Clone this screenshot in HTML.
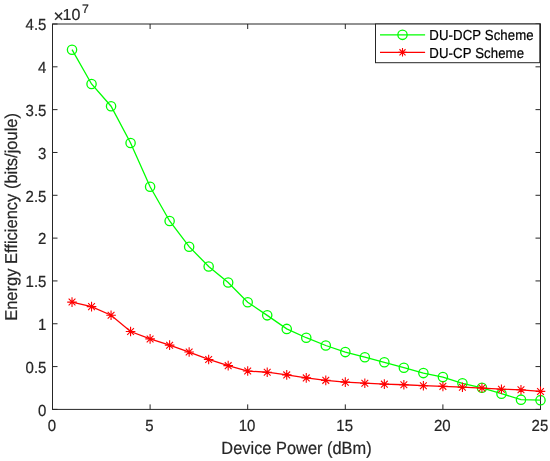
<!DOCTYPE html>
<html><head><meta charset="utf-8"><style>
html,body{margin:0;padding:0;background:#fff;}
svg{display:block;font-family:"Liberation Sans",Arial,sans-serif;text-rendering:geometricPrecision;}
text{fill:#262626;stroke:#262626;stroke-width:0.2px;}
.lg text{fill:#000;stroke:#000;}
</style></head><body>
<svg width="550" height="461" viewBox="0 0 550 461">
<rect width="550" height="461" fill="#fff"/>
<rect x="52.5" y="24.0" width="488.0" height="385.4" fill="none" stroke="#262626" stroke-width="1"/>
<line x1="52.50" y1="409.4" x2="52.50" y2="404.4" stroke="#262626" stroke-width="1"/>
<line x1="52.50" y1="24.0" x2="52.50" y2="29.0" stroke="#262626" stroke-width="1"/>
<line x1="150.10" y1="409.4" x2="150.10" y2="404.4" stroke="#262626" stroke-width="1"/>
<line x1="150.10" y1="24.0" x2="150.10" y2="29.0" stroke="#262626" stroke-width="1"/>
<line x1="247.70" y1="409.4" x2="247.70" y2="404.4" stroke="#262626" stroke-width="1"/>
<line x1="247.70" y1="24.0" x2="247.70" y2="29.0" stroke="#262626" stroke-width="1"/>
<line x1="345.30" y1="409.4" x2="345.30" y2="404.4" stroke="#262626" stroke-width="1"/>
<line x1="345.30" y1="24.0" x2="345.30" y2="29.0" stroke="#262626" stroke-width="1"/>
<line x1="442.90" y1="409.4" x2="442.90" y2="404.4" stroke="#262626" stroke-width="1"/>
<line x1="442.90" y1="24.0" x2="442.90" y2="29.0" stroke="#262626" stroke-width="1"/>
<line x1="540.50" y1="409.4" x2="540.50" y2="404.4" stroke="#262626" stroke-width="1"/>
<line x1="540.50" y1="24.0" x2="540.50" y2="29.0" stroke="#262626" stroke-width="1"/>
<line x1="52.5" y1="409.40" x2="57.5" y2="409.40" stroke="#262626" stroke-width="1"/>
<line x1="540.5" y1="409.40" x2="535.5" y2="409.40" stroke="#262626" stroke-width="1"/>
<line x1="52.5" y1="366.58" x2="57.5" y2="366.58" stroke="#262626" stroke-width="1"/>
<line x1="540.5" y1="366.58" x2="535.5" y2="366.58" stroke="#262626" stroke-width="1"/>
<line x1="52.5" y1="323.76" x2="57.5" y2="323.76" stroke="#262626" stroke-width="1"/>
<line x1="540.5" y1="323.76" x2="535.5" y2="323.76" stroke="#262626" stroke-width="1"/>
<line x1="52.5" y1="280.93" x2="57.5" y2="280.93" stroke="#262626" stroke-width="1"/>
<line x1="540.5" y1="280.93" x2="535.5" y2="280.93" stroke="#262626" stroke-width="1"/>
<line x1="52.5" y1="238.11" x2="57.5" y2="238.11" stroke="#262626" stroke-width="1"/>
<line x1="540.5" y1="238.11" x2="535.5" y2="238.11" stroke="#262626" stroke-width="1"/>
<line x1="52.5" y1="195.29" x2="57.5" y2="195.29" stroke="#262626" stroke-width="1"/>
<line x1="540.5" y1="195.29" x2="535.5" y2="195.29" stroke="#262626" stroke-width="1"/>
<line x1="52.5" y1="152.47" x2="57.5" y2="152.47" stroke="#262626" stroke-width="1"/>
<line x1="540.5" y1="152.47" x2="535.5" y2="152.47" stroke="#262626" stroke-width="1"/>
<line x1="52.5" y1="109.64" x2="57.5" y2="109.64" stroke="#262626" stroke-width="1"/>
<line x1="540.5" y1="109.64" x2="535.5" y2="109.64" stroke="#262626" stroke-width="1"/>
<line x1="52.5" y1="66.82" x2="57.5" y2="66.82" stroke="#262626" stroke-width="1"/>
<line x1="540.5" y1="66.82" x2="535.5" y2="66.82" stroke="#262626" stroke-width="1"/>
<line x1="52.5" y1="24.00" x2="57.5" y2="24.00" stroke="#262626" stroke-width="1"/>
<line x1="540.5" y1="24.00" x2="535.5" y2="24.00" stroke="#262626" stroke-width="1"/>
<g font-size="15"><text transform="translate(51.90,431) scale(1,1.07)" text-anchor="middle">0</text><text transform="translate(149.50,431) scale(1,1.07)" text-anchor="middle">5</text><text transform="translate(247.10,431) scale(1,1.07)" text-anchor="middle">10</text><text transform="translate(344.70,431) scale(1,1.07)" text-anchor="middle">15</text><text transform="translate(442.30,431) scale(1,1.07)" text-anchor="middle">20</text><text transform="translate(539.90,431) scale(1,1.07)" text-anchor="middle">25</text><text transform="translate(46.4,415.75) scale(1,1.07)" text-anchor="end">0</text><text transform="translate(46.4,372.93) scale(1,1.07)" text-anchor="end">0.5</text><text transform="translate(46.4,330.11) scale(1,1.07)" text-anchor="end">1</text><text transform="translate(46.4,287.28) scale(1,1.07)" text-anchor="end">1.5</text><text transform="translate(46.4,244.46) scale(1,1.07)" text-anchor="end">2</text><text transform="translate(46.4,201.64) scale(1,1.07)" text-anchor="end">2.5</text><text transform="translate(46.4,158.82) scale(1,1.07)" text-anchor="end">3</text><text transform="translate(46.4,115.99) scale(1,1.07)" text-anchor="end">3.5</text><text transform="translate(46.4,73.17) scale(1,1.07)" text-anchor="end">4</text><text transform="translate(46.4,30.35) scale(1,1.07)" text-anchor="end">4.5</text></g>
<text x="53.6" y="22.2" font-size="17.4">×</text><text x="80.4" y="20.3" font-size="16" text-anchor="end">10</text><text x="82.0" y="12.7" font-size="12.3">7</text>
<text transform="translate(296.5,453.5) scale(1,1.07)" font-size="16.4" text-anchor="middle">Device Power (dBm)</text>
<text transform="translate(16.5,216.9) rotate(-90) scale(1,1.04)" font-size="16.5" text-anchor="middle">Energy Efficiency (bits/joule)</text>
<polyline points="72.02,49.69 91.54,83.95 111.06,106.22 130.58,143.05 150.10,186.72 169.62,220.98 189.14,246.68 208.66,266.46 228.18,282.56 247.70,302.26 267.22,315.36 286.74,328.89 306.26,337.72 325.78,345.51 345.30,352.10 364.82,357.24 384.34,362.30 403.86,367.69 423.38,373.09 442.90,377.11 462.42,383.28 481.94,387.82 501.46,393.64 520.98,399.64 540.50,400.15" fill="none" stroke="#00ff00" stroke-width="1.3"/>
<circle cx="72.02" cy="49.69" r="4.65" fill="none" stroke="#00ff00" stroke-width="1.3"/>
<circle cx="91.54" cy="83.95" r="4.65" fill="none" stroke="#00ff00" stroke-width="1.3"/>
<circle cx="111.06" cy="106.22" r="4.65" fill="none" stroke="#00ff00" stroke-width="1.3"/>
<circle cx="130.58" cy="143.05" r="4.65" fill="none" stroke="#00ff00" stroke-width="1.3"/>
<circle cx="150.10" cy="186.72" r="4.65" fill="none" stroke="#00ff00" stroke-width="1.3"/>
<circle cx="169.62" cy="220.98" r="4.65" fill="none" stroke="#00ff00" stroke-width="1.3"/>
<circle cx="189.14" cy="246.68" r="4.65" fill="none" stroke="#00ff00" stroke-width="1.3"/>
<circle cx="208.66" cy="266.46" r="4.65" fill="none" stroke="#00ff00" stroke-width="1.3"/>
<circle cx="228.18" cy="282.56" r="4.65" fill="none" stroke="#00ff00" stroke-width="1.3"/>
<circle cx="247.70" cy="302.26" r="4.65" fill="none" stroke="#00ff00" stroke-width="1.3"/>
<circle cx="267.22" cy="315.36" r="4.65" fill="none" stroke="#00ff00" stroke-width="1.3"/>
<circle cx="286.74" cy="328.89" r="4.65" fill="none" stroke="#00ff00" stroke-width="1.3"/>
<circle cx="306.26" cy="337.72" r="4.65" fill="none" stroke="#00ff00" stroke-width="1.3"/>
<circle cx="325.78" cy="345.51" r="4.65" fill="none" stroke="#00ff00" stroke-width="1.3"/>
<circle cx="345.30" cy="352.10" r="4.65" fill="none" stroke="#00ff00" stroke-width="1.3"/>
<circle cx="364.82" cy="357.24" r="4.65" fill="none" stroke="#00ff00" stroke-width="1.3"/>
<circle cx="384.34" cy="362.30" r="4.65" fill="none" stroke="#00ff00" stroke-width="1.3"/>
<circle cx="403.86" cy="367.69" r="4.65" fill="none" stroke="#00ff00" stroke-width="1.3"/>
<circle cx="423.38" cy="373.09" r="4.65" fill="none" stroke="#00ff00" stroke-width="1.3"/>
<circle cx="442.90" cy="377.11" r="4.65" fill="none" stroke="#00ff00" stroke-width="1.3"/>
<circle cx="462.42" cy="383.28" r="4.65" fill="none" stroke="#00ff00" stroke-width="1.3"/>
<circle cx="481.94" cy="387.82" r="4.65" fill="none" stroke="#00ff00" stroke-width="1.3"/>
<circle cx="501.46" cy="393.64" r="4.65" fill="none" stroke="#00ff00" stroke-width="1.3"/>
<circle cx="520.98" cy="399.64" r="4.65" fill="none" stroke="#00ff00" stroke-width="1.3"/>
<circle cx="540.50" cy="400.15" r="4.65" fill="none" stroke="#00ff00" stroke-width="1.3"/>
<polyline points="72.02,302.09 91.54,306.63 111.06,315.19 130.58,331.55 150.10,338.91 169.62,345.17 189.14,352.02 208.66,359.47 228.18,365.64 247.70,371.03 267.22,372.23 286.74,374.89 306.26,377.88 325.78,380.37 345.30,382.17 364.82,383.19 384.34,384.13 403.86,384.73 423.38,385.68 442.90,386.36 462.42,387.22 481.94,388.07 501.46,389.19 520.98,389.79 540.50,391.41" fill="none" stroke="#ff0000" stroke-width="1.3"/>
<path d="M67.22,302.09H76.82M72.02,297.29V306.89M68.63,298.69L75.41,305.48M68.63,305.48L75.41,298.69M86.74,306.63H96.34M91.54,301.83V311.43M88.15,303.23L94.93,310.02M88.15,310.02L94.93,303.23M106.26,315.19H115.86M111.06,310.39V319.99M107.67,311.80L114.45,318.59M107.67,318.59L114.45,311.80M125.78,331.55H135.38M130.58,326.75V336.35M127.19,328.16L133.97,334.94M127.19,334.94L133.97,328.16M145.30,338.91H154.90M150.10,334.11V343.71M146.71,335.52L153.49,342.31M146.71,342.31L153.49,335.52M164.82,345.17H174.42M169.62,340.37V349.97M166.23,341.77L173.01,348.56M166.23,348.56L173.01,341.77M184.34,352.02H193.94M189.14,347.22V356.82M185.75,348.62L192.53,355.41M185.75,355.41L192.53,348.62M203.86,359.47H213.46M208.66,354.67V364.27M205.27,356.08L212.05,362.86M205.27,362.86L212.05,356.08M223.38,365.64H232.98M228.18,360.84V370.44M224.79,362.24L231.57,369.03M224.79,369.03L231.57,362.24M242.90,371.03H252.50M247.70,366.23V375.83M244.31,367.64L251.09,374.43M244.31,374.43L251.09,367.64M262.42,372.23H272.02M267.22,367.43V377.03M263.83,368.84L270.61,375.62M263.83,375.62L270.61,368.84M281.94,374.89H291.54M286.74,370.09V379.69M283.35,371.49L290.13,378.28M283.35,378.28L290.13,371.49M301.46,377.88H311.06M306.26,373.08V382.68M302.87,374.49L309.65,381.28M302.87,381.28L309.65,374.49M320.98,380.37H330.58M325.78,375.57V385.17M322.39,376.97L329.17,383.76M322.39,383.76L329.17,376.97M340.50,382.17H350.10M345.30,377.37V386.97M341.91,378.77L348.69,385.56M341.91,385.56L348.69,378.77M360.02,383.19H369.62M364.82,378.39V387.99M361.43,379.80L368.21,386.59M361.43,386.59L368.21,379.80M379.54,384.13H389.14M384.34,379.33V388.93M380.95,380.74L387.73,387.53M380.95,387.53L387.73,380.74M399.06,384.73H408.66M403.86,379.93V389.53M400.47,381.34L407.25,388.13M400.47,388.13L407.25,381.34M418.58,385.68H428.18M423.38,380.88V390.48M419.99,382.28L426.77,389.07M419.99,389.07L426.77,382.28M438.10,386.36H447.70M442.90,381.56V391.16M439.51,382.97L446.29,389.76M439.51,389.76L446.29,382.97M457.62,387.22H467.22M462.42,382.42V392.02M459.03,383.82L465.81,390.61M459.03,390.61L465.81,383.82M477.14,388.07H486.74M481.94,383.27V392.87M478.55,384.68L485.33,391.47M478.55,391.47L485.33,384.68M496.66,389.19H506.26M501.46,384.39V393.99M498.07,385.79L504.85,392.58M498.07,392.58L504.85,385.79M516.18,389.79H525.78M520.98,384.99V394.59M517.59,386.39L524.37,393.18M517.59,393.18L524.37,386.39M535.70,391.41H545.30M540.50,386.61V396.21M537.11,388.02L543.89,394.81M537.11,394.81L543.89,388.02" stroke="#ff0000" stroke-width="1.1" fill="none"/>
<rect x="375.5" y="24.0" width="164.29999999999995" height="38.7" fill="#fff" stroke="#262626" stroke-width="1"/>
<line x1="380" y1="34.85" x2="425.1" y2="34.85" stroke="#00ff00" stroke-width="1.3"/>
<circle cx="402.5" cy="34.85" r="4.65" fill="none" stroke="#00ff00" stroke-width="1.3"/>
<line x1="380" y1="52.3" x2="425.1" y2="52.3" stroke="#ff0000" stroke-width="1.3"/>
<path d="M398.20,52.30H406.80M402.50,48.00V56.60M399.46,49.26L405.54,55.34M399.46,55.34L405.54,49.26" stroke="#ff0000" stroke-width="1.1" fill="none"/>
<g class="lg" font-size="13.2" letter-spacing="0.1"><text transform="translate(429.35,40.25) scale(1,1.1)">DU-DCP Scheme</text><text transform="translate(429.35,58.25) scale(1,1.1)">DU-CP Scheme</text></g>
</svg>
</body></html>
